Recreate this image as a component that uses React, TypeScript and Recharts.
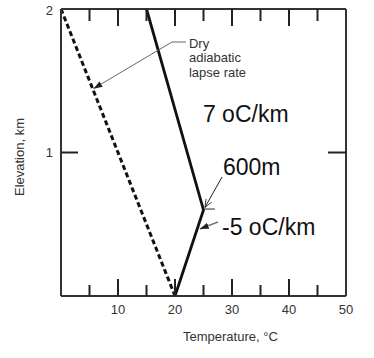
import React from 'react';
import { ComposedChart, Line, XAxis, YAxis, ReferenceLine, ReferenceDot, Label } from 'recharts';

// ---- data ----
const xTicks = [5, 10, 15, 20, 25, 30, 35, 40, 45, 50];
const xMajorTicks = [10, 20, 30, 40];
const xLabelTicks = [10, 20, 30, 40, 50];
const topTicks = [5, 10, 15, 20, 25, 30, 35, 40, 45];
const yTicks = [1, 2];
const yLabelTicks = [1, 2];
const rightTicks = [1];

// dry adiabatic lapse rate (dashed)
const dryAdiabat = [
  { t: 0, e: 2 },
  { t: 20, e: 0 },
];
// observed profile: inversion to 600 m, then 7 oC/km
const observedProfile = [
  { t: 20, e: 0 },
  { t: 25, e: 0.6 },
  { t: 15, e: 2 },
];

// annotation anchors (data coordinates)
const dryText = { t: 22.45, e: 1.73, lines: ['Dry', 'adiabatic', 'lapse rate'] };
const rate7Text = { t: 24.9, e: 1.213, text: '7 oC/km' };
const m600Text = { t: 28.4, e: 0.843, text: '600m' };
const rate5Text = { t: 28.25, e: 0.425, text: '-5 oC/km' };

const dryLeaderH = [{ x: 21.93, y: 1.77 }, { x: 19.47, y: 1.77 }];
const dryLeader = [{ x: 19.47, y: 1.77 }, { x: 5.7, y: 1.445 }];
const m600Arrow = [{ x: 28.25, y: 0.829 }, { x: 25.25, y: 0.617 }];
const m600Tick = [{ x: 25.26, y: 0.606 }, { x: 27.0, y: 0.606 }];
const rate5Arrow = [{ x: 27.54, y: 0.516 }, { x: 24.35, y: 0.467 }];

const FONT = "'Liberation Sans', Arial, Helvetica, sans-serif";
const AXIS = { stroke: '#333', strokeWidth: 2 };
const TICK_COLOR = '#222';

const BottomTick = (props: any) => {
  const { x, y, payload } = props;
  const v = Number(payload.value);
  const major = xMajorTicks.indexOf(v) >= 0;
  const len = major ? 17 : v < 50 ? 11 : 0;
  return (
    <g>
      {len > 0 && <path d={`M${x},${y}V${y - len}`} stroke={TICK_COLOR} strokeWidth={2} fill="none" />}
      {xLabelTicks.indexOf(v) >= 0 && (
        <text x={x} y={y + 18} textAnchor="middle" fontSize={13} fill="#333" fontFamily={FONT}>
          {v}
        </text>
      )}
    </g>
  );
};

const TopTick = (props: any) => {
  const { x, y, payload } = props;
  const v = Number(payload.value);
  const len = xMajorTicks.indexOf(v) >= 0 ? 17 : 12;
  return <path d={`M${x},${y}V${y + len}`} stroke={TICK_COLOR} strokeWidth={2} fill="none" />;
};

const LeftTick = (props: any) => {
  const { x, y, payload } = props;
  const v = Number(payload.value);
  return (
    <g>
      {v < 2 && <path d={`M${x},${y}H${x + 17}`} stroke={TICK_COLOR} strokeWidth={2} fill="none" />}
      {yLabelTicks.indexOf(v) >= 0 && (
        <text x={x - 8} y={y + (v === 2 ? 6 : 4.5)} textAnchor="end" fontSize={13} fill="#333" fontFamily={FONT}>
          {v}
        </text>
      )}
    </g>
  );
};

const RightTick = (props: any) => {
  const { x, y } = props;
  return <path d={`M${x},${y}H${x - 18}`} stroke={TICK_COLOR} strokeWidth={2} fill="none" />;
};

const XTitle = (props: any) => {
  const vb = props.viewBox;
  return (
    <text x={vb.x + 122} y={vb.y + 45} fontSize={13} fill="#333" fontFamily={FONT}>
      Temperature, °C
    </text>
  );
};

const YTitle = (props: any) => {
  const vb = props.viewBox;
  const cx = vb.x + 13;
  const cy = vb.y + vb.height / 2 + 4.5;
  return (
    <text x={cx} y={cy} transform={`rotate(-90, ${cx}, ${cy})`} textAnchor="middle" fontSize={13} fill="#333" fontFamily={FONT}>
      Elevation, km
    </text>
  );
};

const arrowLine = (color: string, width: number, marker?: string) => (p: any) => (
  <line
    x1={p.x1}
    y1={p.y1}
    x2={p.x2}
    y2={p.y2}
    stroke={color}
    strokeWidth={width}
    markerEnd={marker ? `url(#${marker})` : undefined}
  />
);

const multiText = (lines: string[], size: number, fill: string, lh: number) => (p: any) => (
  <text x={p.cx} y={p.cy} fontSize={size} fill={fill} fontFamily={FONT}>
    {lines.map((l, i) => (
      <tspan key={i} x={p.cx} dy={i === 0 ? 0 : lh}>
        {l}
      </tspan>
    ))}
  </text>
);

export default function App() {
  return (
    <div style={{ position: 'absolute', left: 0, top: 0, width: 374, height: 358, background: '#fff' }}>
      <svg width={0} height={0} style={{ position: 'absolute' }}>
        <defs>
          <marker id="arrowFilled" viewBox="0 0 10 7" refX={10} refY={3.5} markerWidth={9} markerHeight={6.5} markerUnits="userSpaceOnUse" orient="auto">
            <path d="M0,0 L10,3.5 L0,7 z" fill="#222" />
          </marker>
          <marker id="arrowOpen" viewBox="0 0 10 8" refX={10} refY={4} markerWidth={8} markerHeight={7} markerUnits="userSpaceOnUse" orient="auto">
            <path d="M0,0 L10,4 L0,8" fill="none" stroke="#222" strokeWidth={1} />
          </marker>
        </defs>
      </svg>
      <ComposedChart width={374} height={358} margin={{ top: 8, right: 27, bottom: 22, left: 11 }}>
        <XAxis
          xAxisId={0}
          dataKey="t"
          type="number"
          domain={[0, 50]}
          ticks={xTicks}
          interval={0}
          tickSize={0}
          tickMargin={0}
          tickLine={false}
          tick={BottomTick}
          axisLine={AXIS}
          height={40}
        >
          <Label content={XTitle} />
        </XAxis>
        <XAxis
          xAxisId="top"
          dataKey="t"
          orientation="top"
          type="number"
          domain={[0, 50]}
          ticks={topTicks}
          interval={0}
          tickSize={0}
          tickMargin={0}
          tickLine={false}
          tick={TopTick}
          axisLine={AXIS}
          height={1}
        />
        <YAxis
          yAxisId={0}
          type="number"
          domain={[0, 2]}
          ticks={yTicks}
          interval={0}
          tickSize={0}
          tickMargin={0}
          tickLine={false}
          tick={LeftTick}
          axisLine={AXIS}
          width={50}
        >
          <Label content={YTitle} />
        </YAxis>
        <YAxis
          yAxisId="right"
          orientation="right"
          type="number"
          domain={[0, 2]}
          ticks={rightTicks}
          interval={0}
          tickSize={0}
          tickMargin={0}
          tickLine={false}
          tick={RightTick}
          axisLine={AXIS}
          width={1}
        />
        <Line
          xAxisId="top"
          yAxisId={0}
          data={dryAdiabat}
          dataKey="e"
          type="linear"
          stroke="#111"
          strokeWidth={3}
          strokeDasharray="5 3"
          dot={false}
          activeDot={false}
          isAnimationActive={false}
        />
        <Line
          xAxisId={0}
          yAxisId="right"
          data={observedProfile}
          dataKey="e"
          type="linear"
          stroke="#111"
          strokeWidth={2.8}
          dot={false}
          activeDot={false}
          isAnimationActive={false}
        />
        <ReferenceLine segment={dryLeaderH} shape={arrowLine('#666', 1)} />
        <ReferenceLine segment={dryLeader} shape={arrowLine('#666', 1, 'arrowFilled')} />
        <ReferenceLine segment={m600Arrow} shape={arrowLine('#222', 1, 'arrowOpen')} />
        <ReferenceLine segment={m600Tick} shape={arrowLine('#222', 1)} />
        <ReferenceLine segment={rate5Arrow} shape={arrowLine('#777', 1.5, 'arrowFilled')} />
        <ReferenceDot x={dryText.t} y={dryText.e} r={0} shape={multiText(dryText.lines, 13, '#333', 14.5)} />
        <ReferenceDot x={rate7Text.t} y={rate7Text.e} r={0} shape={multiText([rate7Text.text], 23, '#111', 0)} />
        <ReferenceDot x={m600Text.t} y={m600Text.e} r={0} shape={multiText([m600Text.text], 23, '#111', 0)} />
        <ReferenceDot x={rate5Text.t} y={rate5Text.e} r={0} shape={multiText([rate5Text.text], 23, '#111', 0)} />
      </ComposedChart>
    </div>
  );
}
